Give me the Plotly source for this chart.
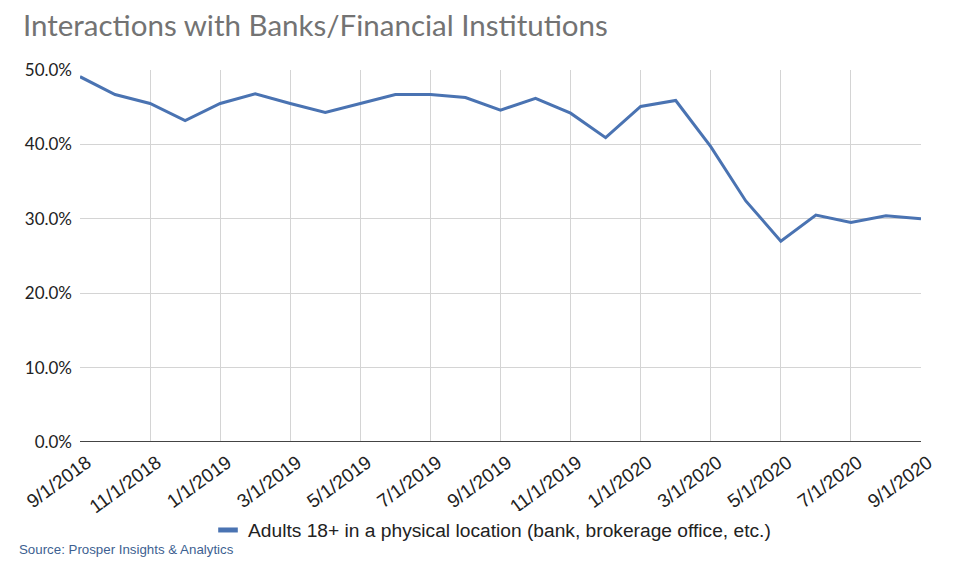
import plotly.graph_objects as go

months = ["9/1/2018", "10/1/2018", "11/1/2018", "12/1/2018", "1/1/2019", "2/1/2019",
          "3/1/2019", "4/1/2019", "5/1/2019", "6/1/2019", "7/1/2019", "8/1/2019",
          "9/1/2019", "10/1/2019", "11/1/2019", "12/1/2019", "1/1/2020", "2/1/2020",
          "3/1/2020", "4/1/2020", "5/1/2020", "6/1/2020", "7/1/2020", "8/1/2020",
          "9/1/2020"]
values = [49.1, 46.7, 45.5, 43.2, 45.5, 46.8, 45.5, 44.3, 45.5, 46.7, 46.7, 46.3,
          44.6, 46.2, 44.2, 40.9, 45.1, 45.9, 39.7, 32.4, 27.0, 30.5, 29.5, 30.4,
          30.0]
tick_labels = months[::2]
y_ticks = [0, 10, 20, 30, 40, 50]
series_name = "Adults 18+ in a physical location (bank, brokerage office, etc.)"
title_text = "Interactions with Banks/Financial Institutions"
source_text = "Source: Prosper Insights & Analytics"

LINE = "#4a73b2"
SANS = "Liberation Sans, Arial, sans-serif"

# page body has an 8px default margin; margins below compensate for it
ML, MR, MT, MB = 72, 47, 62, 154
W, H = 960, 588
PW, PH = W - ML - MR, H - MT - MB

fig = go.Figure()
fig.add_trace(go.Scatter(x=months, y=[v / 100 for v in values], mode="lines",
                         line=dict(color=LINE, width=3), showlegend=False))
fig.add_trace(go.Scatter(x=[None], y=[None], mode="markers", name=series_name,
                         marker=dict(symbol="line-ew-open", size=14, color=LINE,
                                     line=dict(color=LINE, width=6))))

fig.update_layout(
    width=W, height=H,
    margin=dict(l=ML, r=MR, t=MT, b=MB),
    paper_bgcolor="white", plot_bgcolor="white",
    title=dict(text=title_text, x=15 / W, xref="container", xanchor="left",
               y=1 - 7 / H, yref="container", yanchor="top",
               font=dict(family="Lato", size=29.5, color="#737373")),
    xaxis=dict(type="category", categoryorder="array", categoryarray=months,
               range=[0, len(months) - 1], tickvals=tick_labels, ticktext=tick_labels,
               tickangle=-36, showgrid=True, gridcolor="#d4d4d4", gridwidth=1.3,
               showline=False, zeroline=False, ticks="", automargin=False,
               ticklabelshift=7, ticklabelstandoff=5,
               tickfont=dict(family=SANS, size=19, color="#222222")),
    yaxis=dict(range=[0, 0.5], tickvals=[t / 100 for t in y_ticks], tickformat=".1%",
               showgrid=True, gridcolor="#d4d4d4", gridwidth=1.3, zeroline=False,
               showline=False, ticks="", automargin=False, ticklabelstandoff=7,
               tickfont=dict(family="Lato", size=17, color="#222222")),
    legend=dict(orientation="h", x=(200 - ML) / PW, xanchor="left",
                y=-88 / PH, yanchor="middle",
                font=dict(family=SANS, size=19.2, color="#222222")),
    shapes=[dict(type="line", xref="paper", yref="y", x0=0, x1=1, y0=0, y1=0,
                 line=dict(color="#444444", width=2))],
    annotations=[dict(text=source_text, xref="paper", yref="paper",
                      x=(9 - ML) / PW, y=-107 / PH, xanchor="left", yanchor="middle",
                      showarrow=False,
                      font=dict(family=SANS, size=13.3, color="#3d5f91"))],
)

fig.write_html("out.html")
